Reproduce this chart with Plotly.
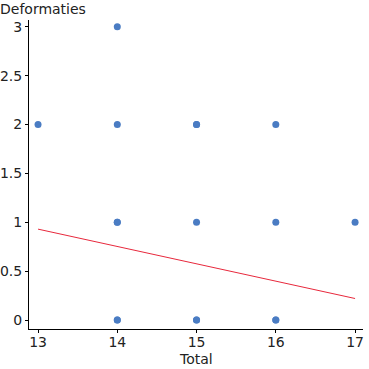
import plotly.graph_objects as go

total = [13, 14, 14, 14, 14, 14, 14, 15, 15, 15, 15, 15, 16, 16, 16, 16, 17]
deformaties = [2, 3, 2, 1, 1, 0, 0, 2, 2, 1, 0, 0, 2, 1, 0, 0, 1]
fit_x = [13, 17]
fit_y = [0.93, 0.22]
x_ticks = [13, 14, 15, 16, 17]
y_ticks = [0, 0.5, 1, 1.5, 2, 2.5, 3]
y_tick_labels = ["0", "0.5", "1", "1.5", "2", "2.5", "3"]

font = "Verdana, DejaVu Sans, sans-serif"
fig = go.Figure()
fig.add_trace(go.Scatter(x=total, y=deformaties, mode="markers",
                         marker=dict(color="#4a7cc3", size=7), showlegend=False))
fig.add_trace(go.Scatter(x=fit_x, y=fit_y, mode="lines",
                         line=dict(color="#e8283c", width=1), showlegend=False))
fig.update_layout(
    width=369, height=369,
    margin=dict(l=29, r=6, t=20, b=40, autoexpand=False),
    plot_bgcolor="white", paper_bgcolor="white",
    font=dict(family=font, size=14, color="#222"),
    xaxis=dict(range=[12.886, 17.1], tickvals=x_ticks, showgrid=False, zeroline=False,
               showline=True, linecolor="black", linewidth=1, ticks="outside",
               ticklen=3, tickcolor="black", automargin=False, ticklabelstandoff=-3),
    yaxis=dict(range=[-0.092, 3.07], tickvals=y_ticks, ticktext=y_tick_labels,
               showgrid=False, zeroline=False, showline=True, linecolor="black",
               linewidth=1, ticks="outside", ticklen=3, tickcolor="black",
               automargin=False),
    annotations=[
        dict(text="Deformaties", x=0, y=1, xref="paper", yref="paper",
             xanchor="left", yanchor="bottom", showarrow=False,
             xshift=-31, yshift=1, font=dict(size=14, family=font)),
        dict(text="Total", x=0.5, y=0, xref="paper", yref="paper",
             xanchor="center", yanchor="top", showarrow=False,
             yshift=-20, font=dict(size=14, family=font)),
    ],
)
fig.write_html("out.html", config={"displayModeBar": False},
               post_script="document.body.style.margin='0';document.body.style.overflow='hidden';")
